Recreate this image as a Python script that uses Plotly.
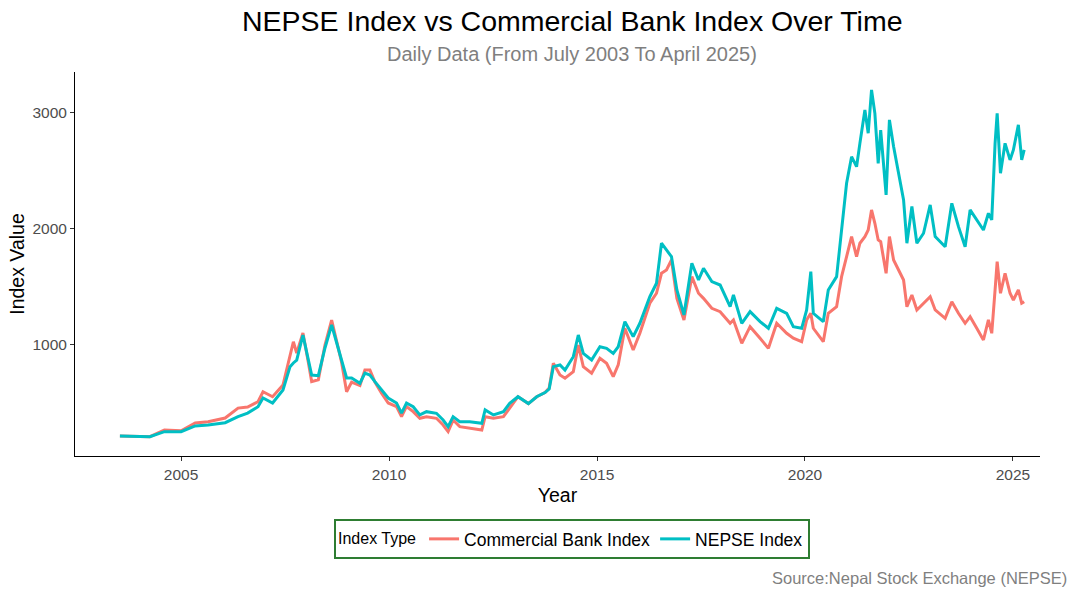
import plotly.graph_objects as go

# Decimal-year sample points
years = [
    2003.53, 2003.8, 2004.0, 2004.25, 2004.6, 2005.0, 2005.34, 2005.65, 2006.06, 2006.37,
    2006.6, 2006.85, 2006.97, 2007.2, 2007.45, 2007.62, 2007.70, 2007.78, 2007.93, 2008.06,
    2008.14, 2008.3, 2008.46, 2008.62, 2008.74, 2008.86, 2008.98, 2009.1, 2009.3, 2009.42,
    2009.54, 2009.66, 2009.82, 2009.98, 2010.18, 2010.3, 2010.42, 2010.58, 2010.74, 2010.9,
    2011.14, 2011.3, 2011.42, 2011.54, 2011.7, 2011.94, 2012.23, 2012.31, 2012.51, 2012.75,
    2012.9, 2013.1, 2013.35, 2013.55, 2013.75, 2013.85, 2013.95, 2014.11, 2014.23, 2014.43,
    2014.55, 2014.67, 2014.87, 2015.07, 2015.23, 2015.39, 2015.51, 2015.67, 2015.87, 2016.03,
    2016.27, 2016.43, 2016.55, 2016.67, 2016.79, 2016.92, 2017.09, 2017.28, 2017.44, 2017.56,
    2017.76, 2017.96, 2018.2, 2018.28, 2018.48, 2018.68, 2018.92, 2019.12, 2019.32, 2019.56,
    2019.72, 2019.92, 2020.04, 2020.14, 2020.2, 2020.44, 2020.56, 2020.76, 2020.88, 2021.0,
    2021.12, 2021.24, 2021.32, 2021.44, 2021.52, 2021.6, 2021.68, 2021.76, 2021.82, 2021.95,
    2022.03, 2022.13, 2022.25, 2022.37, 2022.45, 2022.57, 2022.69, 2022.85, 2023.01, 2023.13,
    2023.37, 2023.53, 2023.69, 2023.85, 2023.97, 2024.13, 2024.29, 2024.41, 2024.49, 2024.57,
    2024.62, 2024.7, 2024.81, 2024.93, 2025.01, 2025.13, 2025.21, 2025.27,
]

nepse = [
    215, 212, 208, 210, 253, 253, 302, 310, 330, 382,
    413, 468, 543, 500, 612, 813, 845, 870, 1086, 870,
    741, 735, 974, 1172, 1017, 870, 716, 716, 670, 758,
    741, 684, 612, 543, 500, 413, 500, 468, 397, 425,
    411, 353, 296, 382, 339, 339, 325, 440, 397, 425,
    497, 554, 495, 554, 590, 620, 813, 828, 784, 899,
    1086, 928, 871, 985, 971, 928, 985, 1201, 1072, 1187,
    1416, 1532, 1877, 1819, 1761, 1474, 1259, 1704, 1560, 1661,
    1546, 1517, 1330, 1431, 1187, 1287, 1201, 1144, 1316, 1273,
    1158, 1144, 1302, 1632, 1273, 1201, 1474, 1589, 2020, 2394,
    2623, 2537, 2738, 3026, 2825, 3198, 2997, 2566, 2853, 2293,
    2940, 2710, 2480, 2250, 1877, 2193, 1877, 1963, 2207, 1934,
    1847, 2221, 2020, 1847, 2164, 2078, 1991, 2135, 2078, 2738,
    2997, 2480, 2738, 2595, 2681, 2897, 2595, 2681,
]

commercial_bank = [
    215, 212, 208, 210, 267, 260, 327, 339, 370, 456,
    465, 511, 597, 554, 655, 900, 1028, 930, 1103, 850,
    684, 700, 1000, 1215, 1040, 850, 597, 680, 650, 784,
    784, 680, 584, 500, 468, 382, 470, 425, 368, 382,
    368, 310, 253, 353, 296, 282, 267, 382, 368, 382,
    454, 554, 495, 554, 590, 630, 842, 741, 713, 770,
    1000, 813, 756, 885, 842, 727, 828, 1144, 957, 1101,
    1360, 1446, 1618, 1647, 1733, 1402, 1216, 1589, 1446, 1402,
    1316, 1287, 1187, 1216, 1014, 1158, 1058, 971, 1187, 1101,
    1058, 1028, 1216, 1273, 1144, 1028, 1273, 1330, 1589, 1761,
    1934, 1761, 1877, 1934, 1991, 2164, 2049, 1905, 1890, 1618,
    1934, 1733, 1647, 1560, 1330, 1431, 1302, 1360, 1416, 1302,
    1230, 1373, 1273, 1187, 1244, 1144, 1043, 1216, 1101, 1474,
    1718, 1446, 1618, 1446, 1388, 1474, 1360, 1373,
]

x_ticks = [2005, 2010, 2015, 2020, 2025]
y_ticks = [1000, 2000, 3000]

FONT = "Liberation Sans, Arial, sans-serif"

fig = go.Figure()
fig.add_trace(go.Scatter(
    x=years, y=commercial_bank, mode="lines", name="Commercial Bank Index",
    line=dict(color="#F8766D", width=3),
))
fig.add_trace(go.Scatter(
    x=years, y=nepse, mode="lines", name="NEPSE Index",
    line=dict(color="#00BFC4", width=3),
))

fig.update_layout(
    width=1077, height=595,
    margin=dict(l=75, r=37, t=72, b=139),
    paper_bgcolor="white", plot_bgcolor="white",
    font=dict(family=FONT, color="black"),
    xaxis=dict(
        range=[2002.45, 2025.65], tickvals=x_ticks, ticktext=[str(v) for v in x_ticks],
        showline=True, linecolor="black", linewidth=1, mirror=False,
        ticks="outside", ticklen=4, tickcolor="#333333",
        showgrid=False, zeroline=False,
        tickfont=dict(size=15.5, color="#4d4d4d"),
        title=dict(text="Year", font=dict(size=19.5, color="black"), standoff=6),
    ),
    yaxis=dict(
        range=[43, 3353], tickvals=y_ticks, ticktext=[str(v) for v in y_ticks],
        showline=True, linecolor="black", linewidth=1, mirror=False,
        ticks="outside", ticklen=4, tickcolor="#333333",
        showgrid=False, zeroline=False,
        tickfont=dict(size=15.5, color="#4d4d4d"),
        title=dict(text="Index Value", font=dict(size=19.5, color="black"), standoff=2),
    ),
    legend=dict(
        orientation="h",
        xref="container", yref="container",
        x=572 / 1077, xanchor="center", y=1 - 519 / 595, yanchor="top",
        bordercolor="#2E7D32", borderwidth=2, bgcolor="white",
        title=dict(text="<span style='font-size:16px'>Index Type</span>",
                   font=dict(size=17.5, color="black")),
        font=dict(size=17.5, color="black"),
    ),
    annotations=[
        dict(text="NEPSE Index vs Commercial Bank Index Over Time",
             xref="paper", yref="paper", x=(572 - 75) / 965, y=1 + (72 - 21) / 384,
             xanchor="center", yanchor="middle", showarrow=False,
             font=dict(size=28.5, color="black", family=FONT)),
        dict(text="Daily Data (From July 2003 To April 2025)",
             xref="paper", yref="paper", x=(572 - 75) / 965, y=1 + (72 - 54) / 384,
             xanchor="center", yanchor="middle", showarrow=False,
             font=dict(size=20, color="#7f7f7f", family=FONT)),
        dict(text="Source:Nepal Stock Exchange (NEPSE)",
             xref="paper", yref="paper", x=(1069 - 75) / 965, y=-(578 - 456) / 384,
             xanchor="right", yanchor="middle", showarrow=False,
             font=dict(size=16.5, color="#7f7f7f", family=FONT)),
    ],
)

fig.write_html("out.html")
